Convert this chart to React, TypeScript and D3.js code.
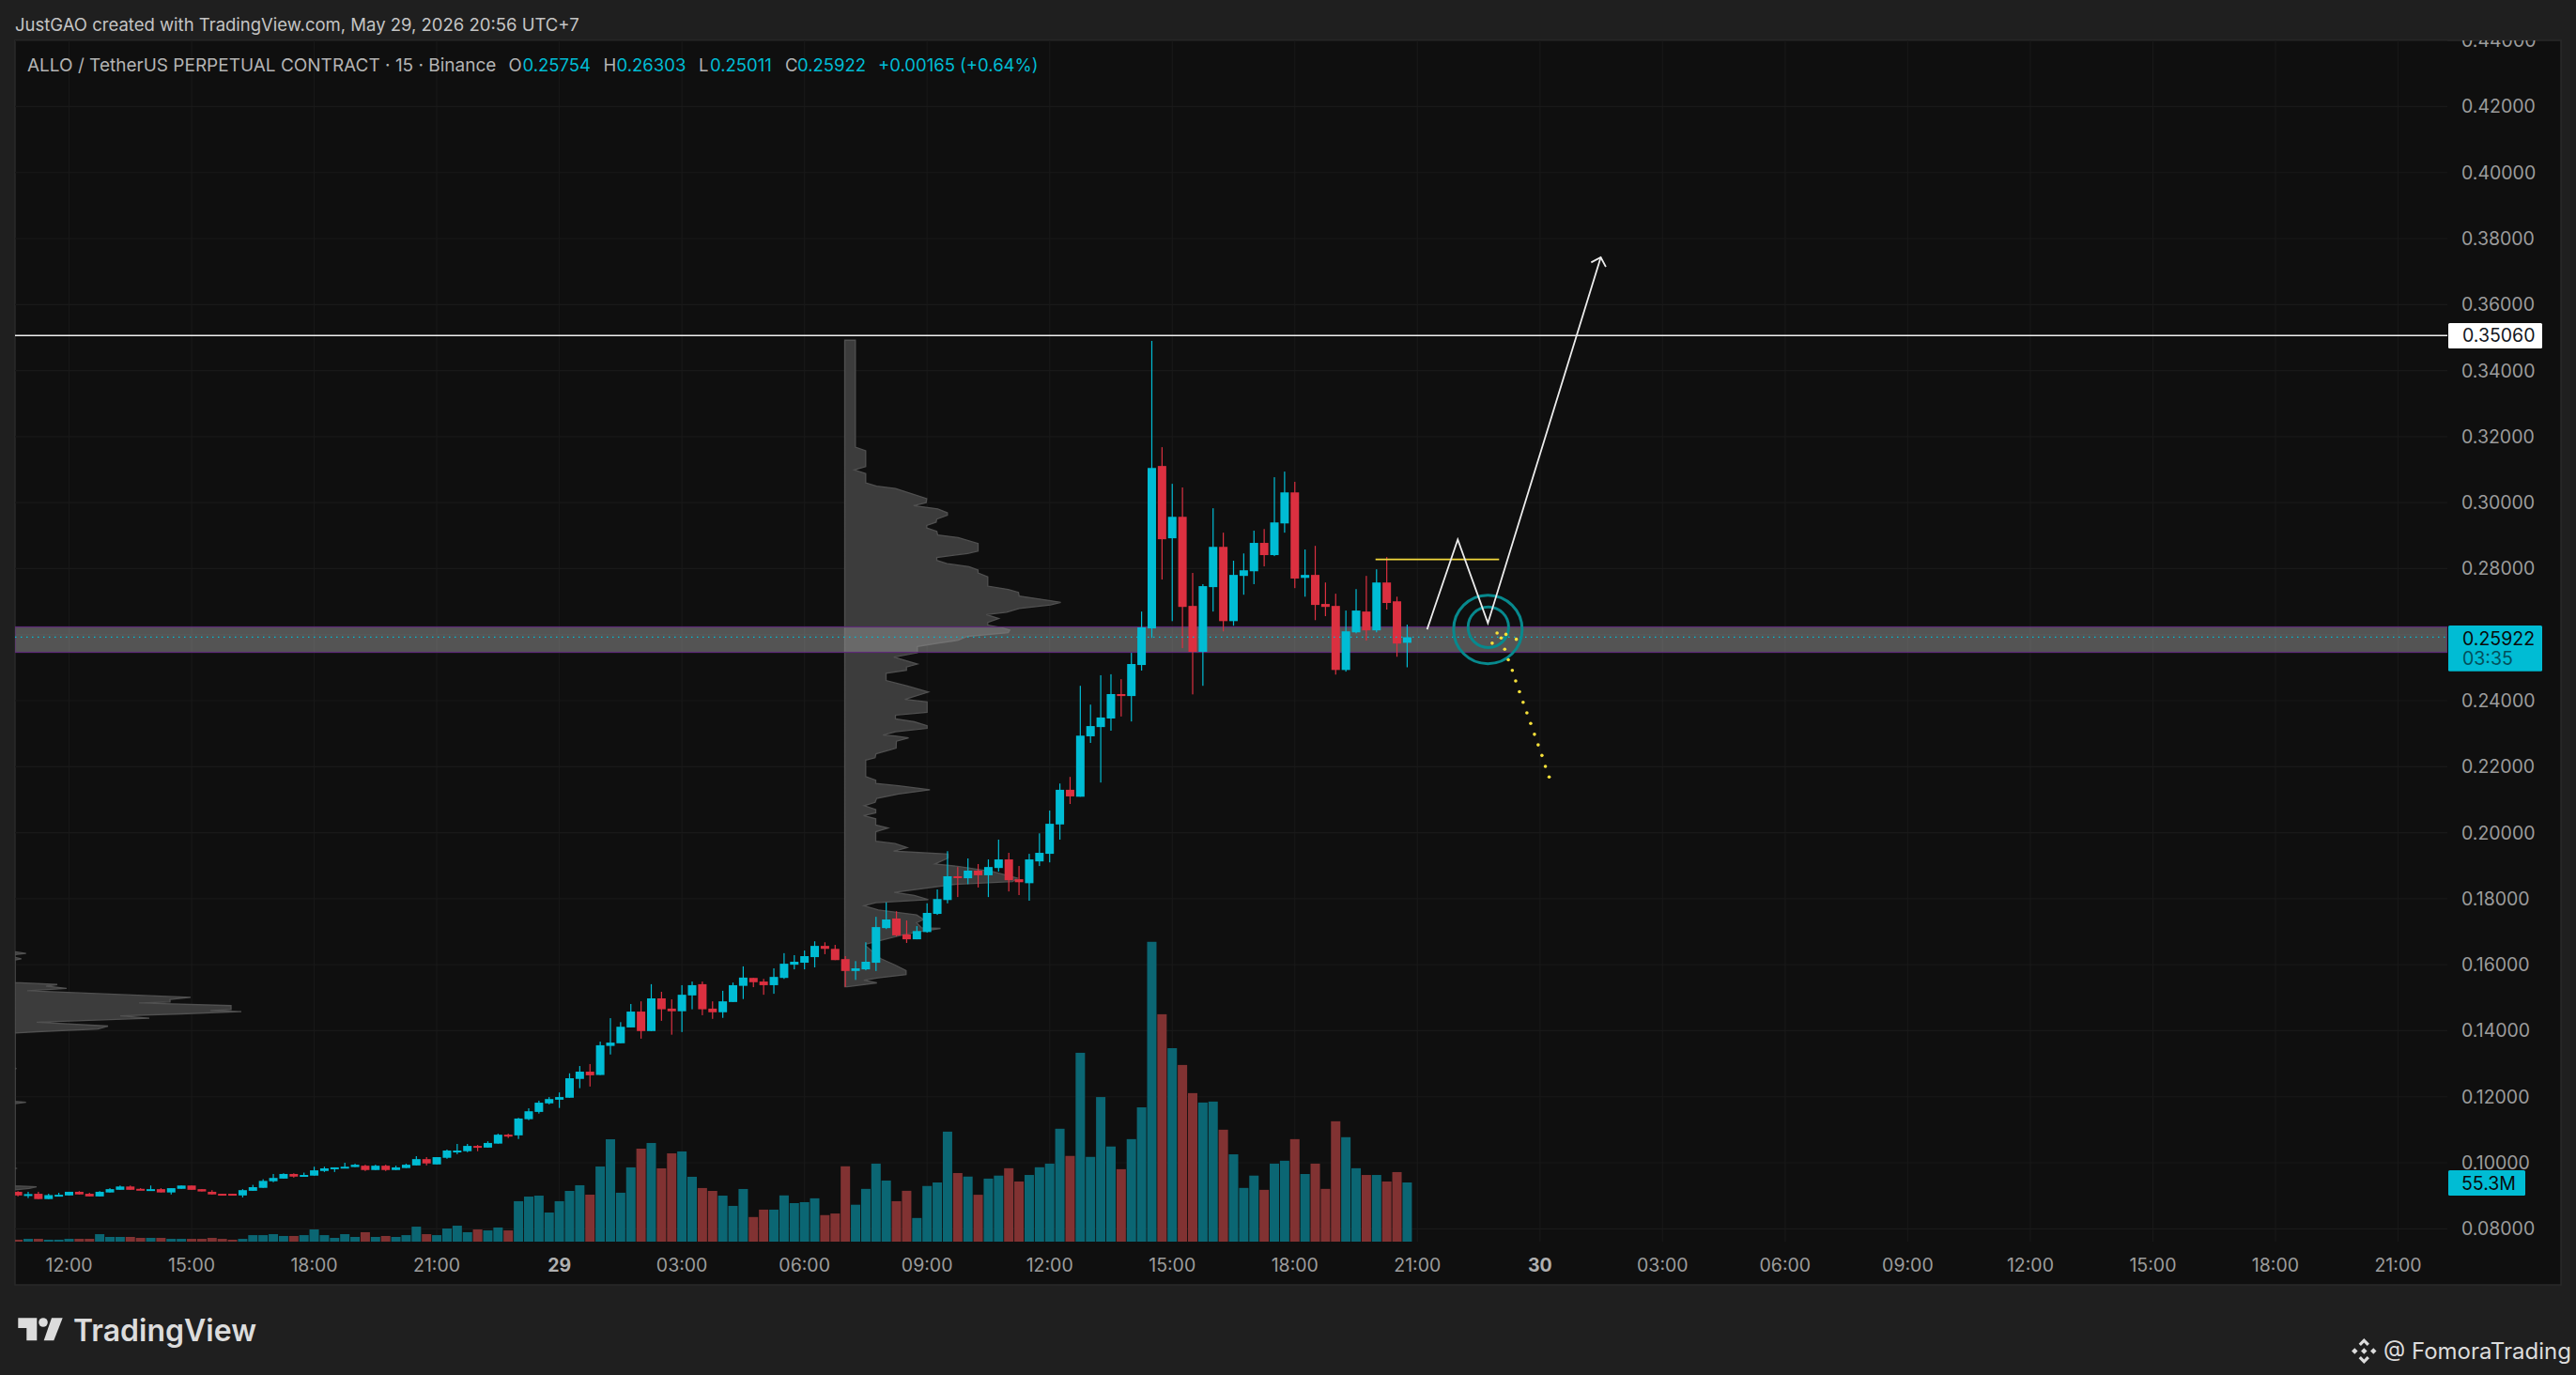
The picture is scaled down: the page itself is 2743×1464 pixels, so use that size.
import { useEffect, useRef } from 'react';
import * as d3 from 'd3';

// 15 minute bars, first one opens 10:45 on May 28
const opens = [
  0.0912, 0.0901, 0.0906, 0.0890, 0.0901, 0.0901, 0.0912, 0.0906, 0.0898, 0.0910,
  0.0918, 0.0928, 0.0921, 0.0918, 0.0920, 0.0910, 0.0921, 0.0931, 0.0920, 0.0912,
  0.0906, 0.0906, 0.0901, 0.0915, 0.0924, 0.0944, 0.0952, 0.0966, 0.0958, 0.0961,
  0.0975, 0.0981, 0.0984, 0.0987, 0.0991, 0.0978, 0.0991, 0.0978, 0.0984, 0.0992,
  0.1011, 0.0995, 0.1015, 0.1035, 0.1035, 0.1051, 0.1046, 0.1058, 0.1085, 0.1083,
  0.1132, 0.1154, 0.1180, 0.1191, 0.1197, 0.1254, 0.1276, 0.1266, 0.1354, 0.1362,
  0.1410, 0.1458, 0.1399, 0.1498, 0.1467, 0.1459, 0.1507, 0.1541, 0.1467, 0.1456,
  0.1487, 0.1536, 0.1560, 0.1549, 0.1538, 0.1560, 0.1600, 0.1606, 0.1623, 0.1657,
  0.1648, 0.1617, 0.1581, 0.1586, 0.1606, 0.1711, 0.1740, 0.1692, 0.1677, 0.1699,
  0.1754, 0.1796, 0.1868, 0.1862, 0.1885, 0.1871, 0.1893, 0.1919, 0.1859, 0.1847,
  0.1913, 0.1936, 0.2025, 0.2130, 0.2109, 0.2292, 0.2320, 0.2346, 0.2420, 0.2414,
  0.2508, 0.2619, 0.3111, 0.2892, 0.2957, 0.2687, 0.2548, 0.2744, 0.2866, 0.2641,
  0.2778, 0.2792, 0.2878, 0.2841, 0.2937, 0.3031, 0.2772, 0.2781, 0.2693, 0.2687,
  0.2493, 0.2607, 0.2670, 0.2613, 0.2758, 0.2701, 0.25754,
];
const highs = [
  0.0914, 0.0912, 0.0912, 0.0906, 0.0909, 0.0912, 0.0914, 0.0909, 0.0914, 0.0923,
  0.0931, 0.0931, 0.0923, 0.0931, 0.0923, 0.0923, 0.0931, 0.0931, 0.0920, 0.0917,
  0.0906, 0.0906, 0.0920, 0.0933, 0.0950, 0.0966, 0.0968, 0.0968, 0.0970, 0.0988,
  0.0988, 0.0986, 0.1000, 0.0997, 0.0994, 0.0994, 0.0994, 0.0991, 0.0997, 0.1020,
  0.1017, 0.1017, 0.1040, 0.1057, 0.1057, 0.1054, 0.1065, 0.1088, 0.1088, 0.1136,
  0.1165, 0.1188, 0.1199, 0.1213, 0.1271, 0.1293, 0.1299, 0.1367, 0.1438, 0.1426,
  0.1481, 0.1489, 0.1541, 0.1518, 0.1495, 0.1538, 0.1549, 0.1549, 0.1489, 0.1521,
  0.1546, 0.1595, 0.1560, 0.1557, 0.1589, 0.1635, 0.1629, 0.1643, 0.1671, 0.1668,
  0.1660, 0.1626, 0.1611, 0.1668, 0.1745, 0.1789, 0.1762, 0.1734, 0.1717, 0.1786,
  0.1828, 0.1944, 0.1896, 0.1922, 0.1905, 0.1919, 0.1979, 0.1939, 0.1899, 0.1936,
  0.1998, 0.2067, 0.2149, 0.2169, 0.2445, 0.2388, 0.2477, 0.2480, 0.2465, 0.2545,
  0.2670, 0.3490, 0.3168, 0.3057, 0.3046, 0.2787, 0.2753, 0.2983, 0.2909, 0.2824,
  0.2846, 0.2915, 0.2920, 0.3077, 0.3094, 0.3063, 0.2858, 0.2869, 0.2758, 0.2724,
  0.2673, 0.2738, 0.2778, 0.2798, 0.2835, 0.2715, 0.26303,
];
const lows = [
  0.0898, 0.0893, 0.0890, 0.0890, 0.0901, 0.0901, 0.0904, 0.0898, 0.0898, 0.0910,
  0.0918, 0.0918, 0.0918, 0.0918, 0.0910, 0.0904, 0.0921, 0.0918, 0.0913, 0.0904,
  0.0901, 0.0901, 0.0895, 0.0915, 0.0924, 0.0941, 0.0952, 0.0955, 0.0958, 0.0961,
  0.0972, 0.0972, 0.0984, 0.0987, 0.0975, 0.0978, 0.0975, 0.0978, 0.0984, 0.0992,
  0.0992, 0.0995, 0.1012, 0.1026, 0.1032, 0.1035, 0.1046, 0.1058, 0.1075, 0.1072,
  0.1129, 0.1149, 0.1177, 0.1166, 0.1197, 0.1226, 0.1231, 0.1266, 0.1328, 0.1362,
  0.1410, 0.1376, 0.1399, 0.1430, 0.1388, 0.1396, 0.1465, 0.1447, 0.1436, 0.1439,
  0.1487, 0.1496, 0.1532, 0.1509, 0.1512, 0.1557, 0.1586, 0.1586, 0.1592, 0.1632,
  0.1614, 0.1533, 0.1554, 0.1583, 0.1581, 0.1708, 0.1686, 0.1666, 0.1677, 0.1697,
  0.1751, 0.1786, 0.1805, 0.1844, 0.1834, 0.1805, 0.1882, 0.1822, 0.1811, 0.1794,
  0.1899, 0.1910, 0.1979, 0.2087, 0.2109, 0.2272, 0.2152, 0.2309, 0.2352, 0.2337,
  0.2491, 0.2590, 0.2767, 0.2641, 0.2559, 0.2419, 0.2445, 0.2670, 0.2610, 0.2627,
  0.2721, 0.2753, 0.2807, 0.2838, 0.2909, 0.2741, 0.2715, 0.2644, 0.2656, 0.2479,
  0.2488, 0.2604, 0.2582, 0.2607, 0.2676, 0.2533, 0.25011,
];
const closes = [
  0.0901, 0.0905, 0.0890, 0.0902, 0.0903, 0.0912, 0.0904, 0.0898, 0.0912, 0.0920,
  0.0928, 0.0918, 0.0918, 0.0920, 0.0910, 0.0923, 0.0931, 0.0918, 0.0913, 0.0904,
  0.0904, 0.0904, 0.0917, 0.0926, 0.0945, 0.0954, 0.0966, 0.0958, 0.0963, 0.0977,
  0.0983, 0.0986, 0.0988, 0.0994, 0.0978, 0.0991, 0.0978, 0.0986, 0.0994, 0.1011,
  0.0998, 0.1017, 0.1037, 0.1037, 0.1051, 0.1049, 0.1060, 0.1085, 0.1082, 0.1134,
  0.1156, 0.1182, 0.1193, 0.1199, 0.1256, 0.1276, 0.1265, 0.1356, 0.1364, 0.1412,
  0.1458, 0.1399, 0.1498, 0.1465, 0.1459, 0.1509, 0.1538, 0.1465, 0.1456, 0.1489,
  0.1538, 0.1561, 0.1547, 0.1538, 0.1563, 0.1603, 0.1609, 0.1626, 0.1657, 0.1648,
  0.1614, 0.1581, 0.1589, 0.1609, 0.1714, 0.1737, 0.1689, 0.1677, 0.1702, 0.1757,
  0.1799, 0.1868, 0.1865, 0.1885, 0.1871, 0.1896, 0.1919, 0.1856, 0.1850, 0.1919,
  0.1939, 0.2027, 0.2130, 0.2110, 0.2294, 0.2323, 0.2349, 0.2420, 0.2414, 0.2511,
  0.2622, 0.3105, 0.2889, 0.2957, 0.2684, 0.2548, 0.2747, 0.2866, 0.2641, 0.2781,
  0.2795, 0.2878, 0.2841, 0.2940, 0.3031, 0.2770, 0.2781, 0.2690, 0.2684, 0.2493,
  0.2610, 0.2673, 0.2613, 0.2758, 0.2696, 0.2573, 0.25922,
];
// millions
const volumes = [
  1.8, 2.6, 2.6, 1.8, 1.8, 2.6, 2.6, 2.6, 7.0, 4.4,
  4.4, 4.4, 3.5, 3.5, 3.5, 2.6, 2.6, 2.6, 2.6, 3.5,
  2.6, 1.8, 2.6, 6.1, 6.1, 7.0, 5.3, 5.3, 6.1, 11.4,
  6.1, 3.5, 7.0, 4.4, 8.8, 4.4, 5.3, 4.4, 6.1, 14.0,
  7.0, 6.1, 12.3, 14.9, 8.8, 11.4, 10.5, 13.2, 10.5, 37.8,
  42.1, 43.0, 27.2, 37.8, 47.4, 52.7, 43.9, 70.2, 95.7, 45.7,
  69.4, 86.9, 92.2, 68.5, 82.5, 84.3, 60.6, 50.1, 47.4, 43.0,
  33.4, 49.2, 23.0, 29.9, 29.9, 43.2, 36.0, 36.9, 40.5, 24.8,
  26.3, 70.4, 34.5, 49.3, 72.9, 57.1, 37.8, 47.5, 22.1, 52.0,
  55.3, 102.8, 64.1, 60.8, 43.8, 58.9, 61.7, 68.6, 56.2, 62.3,
  69.5, 72.9, 105.5, 80.1, 176.5, 79.2, 135.1, 88.9, 67.7, 95.8,
  125.5, 280.2, 212.5, 180.8, 165.1, 138.8, 130.0, 130.9, 104.6, 81.6,
  50.2, 61.7, 48.4, 72.9, 75.6, 95.8, 63.2, 72.9, 49.3, 112.5,
  97.6, 68.6, 62.3, 62.3, 56.2, 65.0, 55.3,
];

// fixed range volume profile, levels from top to bottom
const profilePrices = [
  0.3492, 0.3492, 0.3168, 0.3157, 0.3109, 0.3099, 0.3088, 0.3060, 0.3050, 0.3043, 0.3012, 0.3000, 0.2991, 0.2981, 0.2969,
  0.2962, 0.2950, 0.2941, 0.2931, 0.2923, 0.2913, 0.2902, 0.2894, 0.2876, 0.2853, 0.2846, 0.2834, 0.2825, 0.2815, 0.2806,
  0.2796, 0.2787, 0.2775, 0.2747, 0.2737, 0.2728, 0.2717, 0.2703, 0.2698, 0.2690, 0.2679, 0.2668, 0.2661, 0.2649, 0.2637,
  0.2629, 0.2621, 0.2614, 0.2606, 0.2595, 0.2583, 0.2575, 0.2564, 0.2545, 0.2532, 0.2511, 0.2502, 0.2492, 0.2483, 0.2461,
  0.2445, 0.2426, 0.2404, 0.2396, 0.2365, 0.2356, 0.2345, 0.2336, 0.2324, 0.2316, 0.2306, 0.2296, 0.2293, 0.2287, 0.2277,
  0.2256, 0.2239, 0.2227, 0.2220, 0.2170, 0.2159, 0.2149, 0.2142, 0.2130, 0.2117, 0.2104, 0.2092, 0.2082, 0.2070, 0.2060,
  0.2052, 0.2042, 0.2023, 0.2014, 0.2003, 0.1974, 0.1967, 0.1955, 0.1944, 0.1935, 0.1923, 0.1905, 0.1898, 0.1882, 0.1862,
  0.1852, 0.1843, 0.1819, 0.1810, 0.1797, 0.1788, 0.1779, 0.1766, 0.1751, 0.1737, 0.1727, 0.1712, 0.1710, 0.1699, 0.1688,
  0.1663, 0.1658, 0.1619, 0.1599, 0.1582, 0.1570, 0.1560, 0.1553, 0.1545, 0.1533, 0.1533,
];
const profileVolumes = [
  0, 11.3, 11.3, 22.3, 22.3, 10, 22.3, 22.3, 34, 54, 87.3, 86.7, 73.3, 99, 109.3,
  109.3, 98, 97.3, 87.3, 87.3, 98, 99, 120.7, 142, 142, 130.7, 98, 98, 109, 132.3,
  142, 142, 152.3, 152.3, 174, 185, 185.7, 219, 230, 219, 185.7, 172.3, 150.7, 164, 152.3,
  152.3, 167.3, 175.7, 174, 130.7, 120.7, 100.7, 77.3, 77.3, 52.3, 77.3, 65.7, 65.7, 44, 44,
  65.7, 89, 64, 87.7, 87.7, 54, 54, 74, 87.7, 87.7, 54, 40.7, 53.3, 68, 55,
  54.7, 33.3, 32.3, 22.3, 22.3, 33, 33, 57.3, 90.7, 57.3, 34, 32.3, 20.7, 33, 33,
  20, 33, 33, 46, 33, 33, 53.6, 66.3, 52, 110, 110, 96, 120, 158, 184,
  178.6, 115, 52.6, 74, 89, 33, 20.4, 35.7, 76.5, 84, 76.5, 81.6, 102, 76.5, 58.7,
  23, 22, 38, 53.6, 65.3, 65.3, 35.7, 20.4, 34.2, 2.5, 0,
];
// older profile, cut off by the left edge of the pane
const oldProfilePrices = [
  0.1639, 0.1634, 0.1631, 0.1622, 0.1618, 0.1614, 0.1546, 0.1540, 0.1535, 0.1528, 0.1521, 0.1506, 0.1501, 0.1495, 0.1487,
  0.1484, 0.1476, 0.1464, 0.1461, 0.1458, 0.1451, 0.1445, 0.1438, 0.1426, 0.1414, 0.1405, 0.1397, 0.1393, 0.1288, 0.1285,
  0.1282, 0.1186, 0.1183, 0.1179, 0.0984, 0.0983, 0.0982, 0.0930, 0.0927, 0.0922, 0.0918,
];
const oldProfileVolumes = [
  0, 11.7, 0, 0, 6.7, 0, 0, 45, 33, 55, 13, 143, 187, 165, 165,
  132, 230, 230, 208, 241, 177, 112, 143, 23, 99, 88, 23, 0, 0, 1,
  0, 0, 11.7, 0, 0, 1, 0, 0, 23, 15, 0,
];

const priceTicks = [0.08, 0.1, 0.12, 0.14, 0.16, 0.18, 0.2, 0.22, 0.24, 0.26, 0.28, 0.3, 0.32, 0.34, 0.36, 0.38, 0.4, 0.42, 0.44];
const zoneTop = 0.26234;
const zoneBottom = 0.25465;
const resistance = 0.3506;
const lastClose = 0.25922;
const lastVolume = 55.3;

// drawings, in bar numbers and prices
const scenarioBars = [137.95, 140.95, 143.9, 154.95];
const scenarioPrices = [0.2616, 0.2888, 0.2635, 0.3743];
const targetBars = [132.9, 145];
const targetPrice = 0.2828;
const dotBars = [144.8, 145.67, 146.68, 145.2, 144.32, 145.55, 145.9, 146.29, 146.62, 146.99, 147.35, 147.72, 148.09, 148.46, 148.82, 149.19, 149.53, 149.9];
const dotPrices = [0.2605, 0.2601, 0.2586, 0.259, 0.2574, 0.2556, 0.2524, 0.2492, 0.246, 0.2427, 0.2395, 0.2363, 0.2331, 0.2298, 0.2266, 0.2234, 0.2201, 0.2169];

const firstBar = Date.UTC(2026, 4, 28, 10, 45);
const FONT = 'Inter, "Noto Sans", sans-serif';
const UP = '#00bcd4';
const DOWN = '#db3040';

const App = () => {
    const svgRef = useRef<SVGSVGElement>(null);

    useEffect(() => {
        if (!svgRef.current) return;
        const svg = d3.select(svgRef.current);
        svg.selectAll('*').remove();

        const paneLeft = 16, paneRight = 2727, paneTop = 43, paneBottom = 1368;
        const plotRight = 2606, plotBottom = 1322;

        const xTime = d3.scaleUtc()
            .domain([new Date(Date.UTC(2026, 4, 28, 12)), new Date(Date.UTC(2026, 4, 30, 21))])
            .range([73.5, 2553.5]);
        const xBar = (i: number) => xTime(new Date(firstBar + i * 15 * 60000));
        const y = d3.scaleLinear().domain([0.08, 0.36]).range([1308.3, 324.3]);
        const volY = d3.scaleLinear().domain([0, 280]).range([plotBottom, 1003]);
        const profileX = d3.scaleLinear().domain([0, 230]).range([0, 230]);

        // page and pane
        svg.append('rect').attr('width', 2743).attr('height', 1464).attr('fill', '#1f1f1f');
        svg.append('rect')
            .attr('x', paneLeft).attr('y', paneTop)
            .attr('width', paneRight - paneLeft).attr('height', paneBottom - paneTop)
            .attr('fill', '#0f0f0f').attr('stroke', '#2a2a2a').attr('stroke-width', 1.5);

        const defs = svg.append('defs');
        defs.append('clipPath').attr('id', 'pane').append('rect')
            .attr('x', paneLeft).attr('y', paneTop)
            .attr('width', paneRight - paneLeft).attr('height', paneBottom - paneTop);
        defs.append('clipPath').attr('id', 'plot').append('rect')
            .attr('x', paneLeft).attr('y', paneTop)
            .attr('width', plotRight - paneLeft).attr('height', plotBottom - paneTop);

        const text = (parent: any, x: number, yy: number, s: string, size: number, fill: string, anchor = 'start', weight = 400) =>
            parent.append('text')
                .attr('x', x).attr('y', yy)
                .attr('dy', '0.36em')
                .attr('text-anchor', anchor)
                .style('font-family', FONT)
                .style('font-size', `${size}px`)
                .style('font-weight', weight)
                .attr('fill', fill)
                .text(s);

        // grid
        const timeTicks = xTime.ticks(d3.utcHour.every(3) as any);
        const grid = svg.append('g').attr('clip-path', 'url(#plot)');
        timeTicks.forEach(t => {
            grid.append('line')
                .attr('x1', xTime(t)).attr('x2', xTime(t))
                .attr('y1', paneTop).attr('y2', plotBottom)
                .attr('stroke', '#181818').attr('stroke-width', 1.2);
        });
        priceTicks.forEach(p => {
            grid.append('line')
                .attr('x1', paneLeft).attr('x2', plotRight)
                .attr('y1', y(p)).attr('y2', y(p))
                .attr('stroke', '#191919').attr('stroke-width', 1.2);
        });

        const plot = svg.append('g').attr('clip-path', 'url(#plot)');

        // volume
        plot.selectAll('rect.vol')
            .data(volumes)
            .join('rect')
            .attr('class', 'vol')
            .attr('x', (_, i) => xBar(i) - 5)
            .attr('width', 10)
            .attr('y', d => volY(d))
            .attr('height', d => plotBottom - volY(d))
            .attr('fill', (_, i) => (closes[i] >= opens[i] ? '#0b6673' : '#813232'));

        // volume profiles
        const drawProfile = (prices: number[], vols: number[], left: number) => {
            const area = d3.area<number>()
                .x0(left)
                .x1((_, i) => left + profileX(vols[i]))
                .y(d => y(d))
                .curve(d3.curveLinear);
            plot.append('path')
                .attr('d', area(prices) as string)
                .attr('fill', '#3c3c3c')
                .attr('stroke', '#505050')
                .attr('stroke-width', 1.3);
        };
        drawProfile(oldProfilePrices, oldProfileVolumes, paneLeft);
        drawProfile(profilePrices, profileVolumes, 899.5);

        // support zone, sits over the profile
        plot.append('rect')
            .attr('x', paneLeft).attr('width', plotRight - paneLeft)
            .attr('y', y(zoneTop)).attr('height', y(zoneBottom) - y(zoneTop))
            .attr('fill', 'rgba(145,145,145,0.54)')
            .attr('stroke', '#5e2a78').attr('stroke-width', 1.2);

        // candles
        const candles = plot.selectAll('g.candle')
            .data(opens)
            .join('g')
            .attr('class', 'candle')
            .attr('fill', (_, i) => (closes[i] >= opens[i] ? UP : DOWN));
        candles.append('rect')
            .attr('x', (_, i) => xBar(i) - 0.6)
            .attr('width', 1.2)
            .attr('y', (_, i) => y(highs[i]))
            .attr('height', (_, i) => y(lows[i]) - y(highs[i]));
        candles.append('rect')
            .attr('x', (_, i) => xBar(i) - 4.5)
            .attr('width', 9)
            .attr('y', (d, i) => y(Math.max(d, closes[i])))
            .attr('height', (d, i) => Math.max(2, Math.abs(y(d) - y(closes[i]))));

        // last price
        plot.append('line')
            .attr('x1', paneLeft).attr('x2', plotRight)
            .attr('y1', y(lastClose)).attr('y2', y(lastClose))
            .attr('stroke', UP).attr('stroke-width', 1.2)
            .attr('stroke-dasharray', '1.5 4.5');

        // resistance line
        plot.append('line')
            .attr('x1', paneLeft).attr('x2', plotRight)
            .attr('y1', y(resistance)).attr('y2', y(resistance))
            .attr('stroke', '#f0f0f0').attr('stroke-width', 1.5);

        // yellow level
        plot.append('line')
            .attr('x1', xBar(targetBars[0])).attr('x2', xBar(targetBars[1]))
            .attr('y1', y(targetPrice)).attr('y2', y(targetPrice))
            .attr('stroke', '#f2d83c').attr('stroke-width', 1.6);

        // circles round the retest
        const ringX = xBar(scenarioBars[2]);
        plot.append('circle').attr('cx', ringX).attr('cy', y(scenarioPrices[2]) + 6.7).attr('r', 36.5)
            .attr('fill', 'none').attr('stroke', '#07898d').attr('stroke-width', 3);
        plot.append('circle').attr('cx', ringX + 0.5).attr('cy', y(scenarioPrices[2]) + 4.4).attr('r', 21.6)
            .attr('fill', 'none').attr('stroke', '#07898d').attr('stroke-width', 3);

        // scenario path with arrow
        const line = d3.line<number>().x((_, i) => xBar(scenarioBars[i])).y(d => y(d));
        plot.append('path')
            .attr('d', line(scenarioPrices) as string)
            .attr('fill', 'none').attr('stroke', '#ececec').attr('stroke-width', 1.8);
        const tipX = xBar(scenarioBars[3]);
        const tipY = y(scenarioPrices[3]);
        const ang = Math.atan2(y(scenarioPrices[2]) - tipY, xBar(scenarioBars[2]) - tipX);
        const head = d3.path();
        head.moveTo(tipX + 11.5 * Math.cos(ang + 0.79), tipY + 11.5 * Math.sin(ang + 0.79));
        head.lineTo(tipX, tipY);
        head.lineTo(tipX + 11.5 * Math.cos(ang - 0.79), tipY + 11.5 * Math.sin(ang - 0.79));
        plot.append('path').attr('d', head.toString())
            .attr('fill', 'none').attr('stroke', '#ececec').attr('stroke-width', 1.8);

        // dotted alternative
        plot.selectAll('circle.dot')
            .data(dotPrices)
            .join('circle')
            .attr('class', 'dot')
            .attr('cx', (_, i) => xBar(dotBars[i]))
            .attr('cy', d => y(d))
            .attr('r', 1.8)
            .attr('fill', '#f7e13a');

        // price axis
        const axis = svg.append('g').attr('clip-path', 'url(#pane)');
        priceTicks.forEach(p => {
            text(axis, 2621, y(p), p.toFixed(5), 19.5, '#9c9c9c');
        });
        svg.append('rect').attr('x', 2607).attr('y', 344).attr('width', 100).attr('height', 27).attr('rx', 1.5).attr('fill', '#ffffff');
        text(svg, 2622, y(resistance), resistance.toFixed(5), 19.5, '#131722');
        svg.append('rect').attr('x', 2607).attr('y', 666).attr('width', 100).attr('height', 48.7).attr('rx', 1.5).attr('fill', UP);
        text(svg, 2622, 679.5, lastClose.toFixed(5), 19.5, '#0a0a0a');
        text(svg, 2622, 701, '03:35', 19.5, '#03505c');
        svg.append('rect').attr('x', 2607).attr('y', 1246).attr('width', 82).attr('height', 27).attr('rx', 1.5).attr('fill', UP);
        text(svg, 2621, 1259.5, `${lastVolume}M`, 19.5, '#0a0a0a');

        // time axis
        timeTicks.forEach(t => {
            const midnight = t.getUTCHours() === 0;
            text(svg, xTime(t), 1346.5,
                midnight ? String(t.getUTCDate()) : d3.utcFormat('%H:%M')(t),
                19.5, midnight ? '#b0b0b0' : '#9c9c9c', 'middle', midnight ? 700 : 400);
        });

        // header and legend
        text(svg, 16, 26, 'JustGAO created with TradingView.com, May 29, 2026 20:56 UTC+7', 18.5, '#c4c4c4');
        text(svg, 29, 69, 'ALLO / TetherUS PERPETUAL CONTRACT · 15 · Binance', 19, '#b4b4b4');
        const legendLabels = ['O', 'H', 'L', 'C'];
        const legendLabelX = [541.5, 642.5, 744, 836];
        const legendValues = ['0.25754', '0.26303', '0.25011', '0.25922'];
        const legendValueX = [556.5, 656.5, 756, 849];
        legendLabels.forEach((l, i) => {
            text(svg, legendLabelX[i], 69, l, 18.5, '#b4b4b4');
            text(svg, legendValueX[i], 69, legendValues[i], 18.5, UP);
        });
        text(svg, 935, 69, '+0.00165 (+0.64%)', 18.5, UP);

        // TradingView mark
        const logo = svg.append('g').attr('fill', '#dcdcdc');
        logo.append('path').attr('d', 'M19.3 1403.3H39.3V1427.3H28.3V1414H19.3Z');
        logo.append('circle').attr('cx', 46).attr('cy', 1408).attr('r', 4.8);
        logo.append('path').attr('d', 'M55 1403.3H66.7L57.3 1427.3H46.7Z');
        text(svg, 78, 1416, 'TradingView', 32, '#dcdcdc', 'start', 600);

        // Fomora mark
        const s = 13.5;
        const mark = svg.append('g').attr('transform', `translate(2517.3,1438.5) scale(${s})`).attr('fill', '#dcdcdc');
        ['M0,-1L.42,-.58L.25,-.41L0,-.66L-.25,-.41L-.42,-.58Z',
         'M0,1L.42,.58L.25,.41L0,.66L-.25,.41L-.42,.58Z',
         'M-.98,0L-.74,-.24L-.5,0L-.74,.24Z',
         'M.98,0L.74,-.24L.5,0L.74,.24Z',
         'M0,-.24L.24,0L0,.24L-.24,0Z'].forEach(d => mark.append('path').attr('d', d));
        text(svg, 2538, 1438, '@ FomoraTrading', 24, '#dcdcdc');
    }, []);

    return (
        <svg
            ref={svgRef}
            width={2743}
            height={1464}
            style={{ position: 'absolute', left: 0, top: 0, display: 'block' }}
        />
    );
};

export default App;
